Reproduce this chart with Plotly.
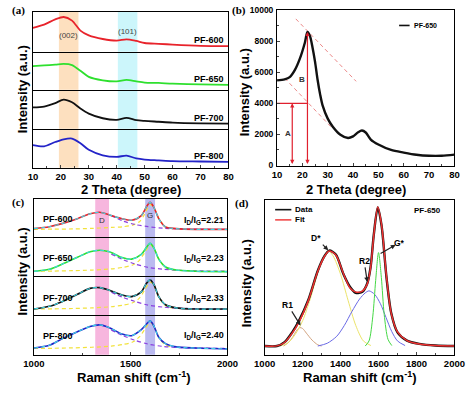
import plotly.graph_objects as go

# ---------------- data: (a) XRD patterns (normalised, stacked) ----------------
xrd_theta = [10, 14, 18, 21, 24, 27, 30, 35, 40, 43.5, 47, 50, 55, 60, 70, 80]
xrd_pf600 = [0.60, 0.68, 0.81, 0.87, 0.78, 0.53, 0.41, 0.32, 0.28, 0.31, 0.27, 0.22, 0.20, 0.18, 0.15, 0.14]
xrd_pf650 = [0.62, 0.64, 0.66, 0.68, 0.65, 0.50, 0.34, 0.25, 0.22, 0.26, 0.22, 0.19, 0.18, 0.16, 0.14, 0.13]
xrd_pf700 = [0.55, 0.57, 0.66, 0.75, 0.68, 0.52, 0.39, 0.27, 0.23, 0.28, 0.22, 0.20, 0.18, 0.16, 0.14, 0.13]
xrd_pf800 = [0.58, 0.55, 0.66, 0.73, 0.75, 0.63, 0.46, 0.32, 0.28, 0.31, 0.24, 0.21, 0.19, 0.17, 0.16, 0.15]
sample_names = ["PF-600", "PF-650", "PF-700", "PF-800"]
band_002 = [19.3, 26.3]
band_101 = [40.4, 47.4]

# ---------------- data: (b) XRD of PF-650 ----------------
b_theta = [10, 13, 15, 17, 19, 21, 22, 23, 24, 25, 26, 27, 28, 30, 32, 35, 38, 40, 42, 43.5,
           45, 47, 50, 55, 60, 65, 70, 75, 80]
b_intensity = [5480, 5550, 5690, 6140, 6880, 7920, 8600, 8330, 7600, 6670, 5520, 4580, 3850, 3020,
               2500, 1980, 1770, 1875, 2140, 2250, 2125, 1670, 1350, 1000, 830, 690, 625, 625, 700]
b_yticks = [0, 2000, 4000, 6000, 8000, 10000]
b_hline_x = [10, 22]
b_hline_y = [4000, 4000]
b_tan_top_x = [17.4, 41.2]
b_tan_top_y = [9440, 5420]
b_tan_bot_x = [13.0, 31.8]
b_tan_bot_y = [5625, 2400]
b_arrow_x = [16, 22]          # A, B
b_arrow_top = [4000, 8600]
b_labels = ["A", "B"]
b_label_x = [14.3, 19.9]
b_label_y = [2040, 5560]

# ---------------- data: (c) Raman spectra (normalised, stacked) ----------------
c_wn = [1000, 1080, 1145, 1225, 1290, 1340, 1390, 1455, 1505, 1555, 1580, 1600, 1620, 1645,
        1680, 1735, 1835, 2000]
c_pf600 = [0.22, 0.27, 0.35, 0.48, 0.61, 0.65, 0.58, 0.48, 0.44, 0.56, 0.78, 0.91, 0.78, 0.48,
           0.26, 0.22, 0.20, 0.20]
c_pf650 = [0.12, 0.17, 0.30, 0.48, 0.62, 0.66, 0.62, 0.47, 0.43, 0.55, 0.72, 0.84, 0.72, 0.43,
           0.23, 0.15, 0.12, 0.11]
c_pf700 = [0.15, 0.22, 0.34, 0.53, 0.68, 0.70, 0.63, 0.51, 0.47, 0.59, 0.80, 0.90, 0.78, 0.47,
           0.26, 0.18, 0.15, 0.15]
c_pf800 = [0.17, 0.24, 0.40, 0.58, 0.71, 0.75, 0.68, 0.52, 0.48, 0.63, 0.76, 0.85, 0.72, 0.44,
           0.28, 0.20, 0.17, 0.15]
c_d_wn = [1400, 1460, 1520, 1590, 1670, 1760, 1850, 2000]
c_d600 = [0.56, 0.42, 0.33, 0.27, 0.23, 0.21, 0.205, 0.20]
c_d650 = [0.56, 0.42, 0.31, 0.22, 0.17, 0.14, 0.13, 0.12]
c_d700 = [0.58, 0.45, 0.35, 0.25, 0.20, 0.17, 0.16, 0.15]
c_d800 = [0.62, 0.48, 0.37, 0.27, 0.21, 0.18, 0.17, 0.16]
c_g_wn = [1000, 1100, 1200, 1300, 1400, 1460, 1510, 1545, 1570, 1590, 1605, 1625, 1650, 1680, 1720]
c_g600 = [0.20, 0.205, 0.21, 0.225, 0.25, 0.27, 0.31, 0.40, 0.58, 0.78, 0.85, 0.72, 0.45, 0.27, 0.21]
c_g650 = [0.12, 0.125, 0.135, 0.15, 0.18, 0.22, 0.28, 0.40, 0.58, 0.73, 0.78, 0.66, 0.40, 0.22, 0.14]
c_g700 = [0.15, 0.155, 0.165, 0.18, 0.21, 0.25, 0.31, 0.43, 0.62, 0.78, 0.84, 0.70, 0.42, 0.24, 0.17]
c_g800 = [0.16, 0.165, 0.175, 0.19, 0.22, 0.26, 0.32, 0.45, 0.62, 0.76, 0.80, 0.66, 0.40, 0.25, 0.18]
c_ratio = ["2.21", "2.23", "2.33", "2.40"]
band_D = [1317, 1388]
band_G = [1575, 1626]

# ---------------- data: (d) Raman fit of PF-650 ----------------
d_wn = [1000, 1065, 1105, 1145, 1180, 1230, 1280, 1315, 1340, 1375, 1415, 1450, 1480, 1515, 1540,
        1558, 1575, 1596, 1616, 1642, 1667, 1700, 1750, 1815, 1900, 2000]
d_data = [0.057, 0.057, 0.082, 0.145, 0.218, 0.354, 0.543, 0.637, 0.673, 0.648, 0.522, 0.438, 0.400,
          0.407, 0.459, 0.564, 0.774, 0.952, 0.836, 0.500, 0.270, 0.145, 0.092, 0.071, 0.060, 0.057]
d_fit = [0.057, 0.058, 0.080, 0.140, 0.210, 0.350, 0.540, 0.635, 0.670, 0.645, 0.525, 0.432, 0.405,
         0.412, 0.455, 0.560, 0.770, 0.955, 0.840, 0.505, 0.268, 0.148, 0.092, 0.070, 0.060, 0.057]
r1_wn = [1100, 1130, 1150, 1170, 1185, 1200, 1220, 1250, 1280, 1300]
r1_val = [0.057, 0.085, 0.12, 0.16, 0.176, 0.17, 0.14, 0.095, 0.065, 0.057]
dstar_wn = [1080, 1120, 1160, 1200, 1240, 1280, 1310, 1335, 1360, 1400, 1440, 1480, 1520, 1560]
dstar_val = [0.057, 0.075, 0.13, 0.22, 0.36, 0.53, 0.63, 0.67, 0.64, 0.52, 0.35, 0.19, 0.09, 0.06]
r2_wn = [1280, 1330, 1380, 1420, 1460, 1500, 1530, 1550, 1580, 1610, 1640, 1670, 1700, 1740]
r2_val = [0.057, 0.075, 0.12, 0.19, 0.28, 0.36, 0.40, 0.413, 0.39, 0.33, 0.24, 0.15, 0.09, 0.06]
gstar_wn = [1530, 1550, 1570, 1585, 1600, 1615, 1630, 1650, 1670]
gstar_val = [0.057, 0.09, 0.25, 0.48, 0.66, 0.50, 0.26, 0.10, 0.06]

# ---------------- layout helpers ----------------
W, H = 474, 393
FONT = "Liberation Sans"
SERIF = "Liberation Serif"


def px(x):
    return x / W


def py(y):
    return 1 - y / H


def an(i):
    return ("xaxis" if i == 1 else f"xaxis{i}", "yaxis" if i == 1 else f"yaxis{i}",
            "x" if i == 1 else f"x{i}", "y" if i == 1 else f"y{i}")


fig = go.Figure()
layout_axes = {}
shapes = []
annotations = []


def tfont(size=9.5):
    return dict(family=FONT, size=size, color="black", weight="bold")


def add_axis(i, xdom, ydom, xr, yr, xlabels=False, xdtick=None, xminor=None, xmirror=True,
             ylabels=False, ytickvals=None, yminor=None):
    xa, ya, xr_, yr_ = an(i)
    xd = dict(domain=xdom, range=xr, anchor=yr_, showline=True, linecolor="black", linewidth=1,
              mirror=xmirror, showgrid=False, zeroline=False, showticklabels=xlabels,
              tickfont=tfont(9.5), fixedrange=True, ticklabeloverflow="allow")
    if xlabels:
        xd.update(ticks="inside", ticklen=3, dtick=xdtick, tick0=xr[0], ticklabelstandoff=0,
                  minor=dict(ticks="inside", ticklen=2, dtick=xminor))
    else:
        xd.update(ticks="")
    yd = dict(domain=ydom, range=yr, anchor=xr_, showline=True, linecolor="black", linewidth=1,
              mirror=True, showgrid=False, zeroline=False, showticklabels=ylabels,
              tickfont=tfont(8.5), fixedrange=True, ticklabeloverflow="allow")
    if ylabels:
        yd.update(ticks="inside", ticklen=3, tickmode="array", tickvals=ytickvals,
                  ticktext=[str(v) for v in ytickvals], ticklabelstandoff=1,
                  minor=dict(ticks="inside", ticklen=2, dtick=yminor))
    else:
        yd.update(ticks="")
    layout_axes[xa] = xd
    layout_axes[ya] = yd
    return xr_, yr_


def line(x, y, xr_, yr_, color, width, dash=None, name=None, spline=True):
    fig.add_trace(go.Scatter(
        x=x, y=y, xaxis=xr_, yaxis=yr_, mode="lines", name=name, showlegend=False,
        line=dict(color=color, width=width, dash=dash, shape="spline" if spline else "linear",
                  smoothing=0.8),
        hoverinfo="skip"))


def text(x, y, t, size=9, bold=True, color="black", xanchor="center", xref="paper",
         yref="paper", family=FONT, angle=0):
    annotations.append(dict(x=x, y=y, xref=xref, yref=yref, text=t, showarrow=False,
                            xanchor=xanchor, yanchor="middle", textangle=angle,
                            font=dict(family=family, size=size, color=color,
                                      weight="bold" if bold else "normal")))


def legend_key(x0, x1, y, color, width, label, size):
    shapes.append(dict(type="line", xref="paper", yref="paper", x0=px(x0), x1=px(x1),
                       y0=py(y), y1=py(y), line=dict(color=color, width=width)))
    text(px(x1 + 2), py(y), label, size=size, xanchor="left")


# ---------------- (a) ----------------
a_xdom = [px(23), px(228)]
a_rows = [(7, 48), (48, 87), (87, 127), (127, 167)]
a_series = [xrd_pf600, xrd_pf650, xrd_pf700, xrd_pf800]
a_colors = ["#e8232b", "#2ee02e", "#111111", "#2323c8"]
a_label_y = [0.30, 0.28, 0.275, 0.29]
for k in range(4):
    i = k + 1
    top, bot = a_rows[k]
    xr_, yr_ = add_axis(i, a_xdom, [py(bot), py(top)], [10, 80], [0, 1],
                        xlabels=(k == 3), xdtick=10, xminor=5, xmirror=(k == 0))
    for band, col in ((band_002, "#fde0bf"), (band_101, "#ccf6fb")):
        shapes.append(dict(type="rect", xref=xr_, yref=f"{yr_} domain", x0=band[0], x1=band[1],
                           y0=0, y1=1, fillcolor=col, line=dict(width=0), layer="below"))
    line(xrd_theta, a_series[k], xr_, yr_, a_colors[k], 1.8, name=sample_names[k])
    text(79.3, a_label_y[k], sample_names[k], size=9, xanchor="right", xref=xr_, yref=yr_)
text(22.6, 0.41, "(002)", size=8, bold=False, color="#444444", xref="x", yref="y")
text(44.0, 0.51, "(101)", size=8, bold=False, color="#444444", xref="x", yref="y")
text(px(126), py(189), "2 Theta (degree)", size=13)
text(px(12), py(86), "Intensity (a.u.)", size=13, angle=-90)
text(px(8), py(6), "(a)", size=11, family=SERIF)

# ---------------- (b) ----------------
xb, yb = add_axis(5, [px(279), px(465)], [py(165), py(5)], [10, 80], [-20, 10020],
                  xlabels=True, xdtick=10, xminor=5, ylabels=True, ytickvals=b_yticks,
                  yminor=1000)
line(b_tan_top_x, b_tan_top_y, xb, yb, "#ec8a8a", 1, dash="4px,3px", spline=False)
line(b_tan_bot_x, b_tan_bot_y, xb, yb, "#ec8a8a", 1, dash="4px,3px", spline=False)
line(b_hline_x, b_hline_y, xb, yb, "#e0202e", 1.2, spline=False)
line(b_theta, b_intensity, xb, yb, "#111111", 2.4, name="PF-650")
for k in range(2):
    annotations.append(dict(x=b_arrow_x[k], y=b_arrow_top[k], ax=b_arrow_x[k], ay=0,
                            xref=xb, yref=yb, axref=xb, ayref=yb, text="", showarrow=True,
                            arrowhead=2, arrowsize=0.7, arrowwidth=1.2, arrowside="end+start",
                            arrowcolor="#e0202e", standoff=0, startstandoff=0))
    text(b_label_x[k], b_label_y[k], b_labels[k], size=8, color="#333333", xref=xb, yref=yb)
legend_key(407, 418, 21, "#111111", 1.6, "PF-650", 7)
text(px(362), py(189), "2 Theta (degree)", size=13)
text(px(245), py(90), "Intensity (a.u.)", size=13, angle=-90)
text(px(239), py(6), "(b)", size=11, family=SERIF)

# ---------------- (c) ----------------
c_xdom = [px(24), px(227)]
c_rows = [(199, 238), (238, 278), (278, 318), (318, 359)]
c_series = [c_pf600, c_pf650, c_pf700, c_pf800]
c_dcomp = [c_d600, c_d650, c_d700, c_d800]
c_gcomp = [c_g600, c_g650, c_g700, c_g800]
c_colors = ["#e8232b", "#2ee02e", "#111111", "#2323c8"]
c_name_y = [0.46, 0.47, 0.425, 0.48]
c_ratio_y = [0.44, 0.45, 0.425, 0.48]
for k in range(4):
    i = 6 + k
    top, bot = c_rows[k]
    xr_, yr_ = add_axis(i, c_xdom, [py(bot), py(top)], [1000, 2000], [0, 1],
                        xlabels=(k == 3), xdtick=500, xminor=250, xmirror=(k == 0))
    for band, col in ((band_D, "#f7b6de"), (band_G, "#babaf0")):
        shapes.append(dict(type="rect", xref=xr_, yref=f"{yr_} domain", x0=band[0], x1=band[1],
                           y0=0, y1=1, fillcolor=col, line=dict(width=0), layer="below"))
    line(c_g_wn, c_gcomp[k], xr_, yr_, "#f2e23c", 1.2, dash="4px,3px")
    line(c_d_wn, c_dcomp[k], xr_, yr_, "#8a3ee0", 1.2, dash="4px,3px")
    line(c_wn, c_series[k], xr_, yr_, c_colors[k], 1.6, name=sample_names[k])
    line(c_wn, c_series[k], xr_, yr_, "#3fd6e6", 1.1, dash="4px,3px")
    text(1038, c_name_y[k], sample_names[k], size=9, xanchor="left", xref=xr_, yref=yr_)
    text(1990, c_ratio_y[k], f"I<sub>D</sub>/I<sub>G</sub>={c_ratio[k]}", size=9,
         xanchor="right", xref=xr_, yref=yr_)
text(1350, 0.44, "D", size=8, bold=False, color="#333333", xref="x6", yref="y6")
text(1601, 0.56, "G", size=8, bold=False, color="#333333", xref="x6", yref="y6")
text(px(129), py(382), "Raman shift (cm<sup>-1</sup>)", size=13)
text(px(12), py(273), "Intensity (a.u.)", size=13, angle=-90)
text(px(8), py(203), "(c)", size=11, family=SERIF)

# ---------------- (d) ----------------
xd_, yd_ = add_axis(10, [px(266), px(465)], [py(359), py(200)], [1000, 2000], [0, 1],
                    xlabels=True, xdtick=200, xminor=100)
line(r1_wn, r1_val, xd_, yd_, "#d2a27e", 1, name="R1")
line(dstar_wn, dstar_val, xd_, yd_, "#ece46a", 1, name="D*")
line(r2_wn, r2_val, xd_, yd_, "#6a6ae6", 1, name="R2")
line(gstar_wn, gstar_val, xd_, yd_, "#45d845", 1, name="G*")
line(d_wn, d_data, xd_, yd_, "#111111", 2.4, name="Data")
line(d_wn, d_fit, xd_, yd_, "#ee3030", 1.5, name="Fit")
d_arrows = [  # (label, text pos, head pos)
    ("R1", (1122, 0.323), (1189, 0.19)),
    ("D*", (1273, 0.753), (1335, 0.675)),
    ("R2", (1524, 0.606), (1541, 0.47)),
]
for lab, (tx, ty), (hx, hy) in d_arrows:
    annotations.append(dict(x=hx, y=hy, ax=tx, ay=ty, xref=xd_, yref=yd_, axref=xd_, ayref=yd_,
                            text=f"<b>{lab}</b>", showarrow=True, arrowhead=2, arrowsize=0.8,
                            arrowwidth=1.2, arrowcolor="#222222",
                            font=dict(family=FONT, size=8.5, color="black")))
annotations.append(dict(x=1690, y=0.71, ax=1603, ay=0.648, xref=xd_, yref=yd_, axref=xd_,
                        ayref=yd_, text="", showarrow=True, arrowhead=2, arrowsize=0.8,
                        arrowwidth=1.2, arrowcolor="#222222"))
text(1712, 0.725, "G*", size=8.5, xref=xd_, yref=yd_)
legend_key(277, 294, 210, "#111111", 1.6, "Data", 8)
legend_key(277, 294, 220.5, "#ee3030", 1.4, "Fit", 8)
text(px(437), py(211), "PF-650", size=8)
text(px(366), py(382), "Raman shift (cm<sup>-1</sup>)", size=13)
text(px(247), py(286), "Intensity (a.u.)", size=13, angle=-90)
text(px(242), py(204), "(d)", size=11, family=SERIF)

fig.update_layout(
    width=W, height=H, autosize=False,
    margin=dict(l=0, r=0, t=0, b=0),
    paper_bgcolor="white", plot_bgcolor="rgba(0,0,0,0)",
    font=dict(family=FONT, color="black"),
    showlegend=False,
    shapes=shapes, annotations=annotations,
    **layout_axes,
)

fig.write_html("out.html", config={"staticPlot": True},
               post_script="document.body.style.margin='0px';"
                           "document.body.style.overflow='hidden';")
